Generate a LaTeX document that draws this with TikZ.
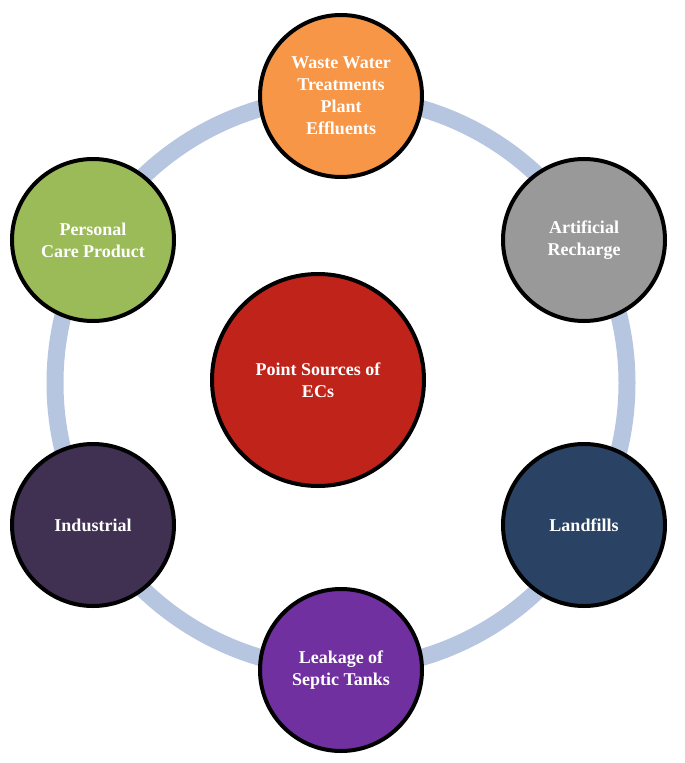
\documentclass[tikz,border=0pt]{standalone}
\usepackage{fontspec}
\setmainfont{Liberation Serif}
\begin{document}
\begin{tikzpicture}[x=1pt,y=-1pt,
  nd/.style={circle,draw=black,line width=4pt,minimum size=162pt,inner sep=0pt,text=white,font=\bfseries\fontsize{18}{22}\selectfont,align=center}]
\useasboundingbox (0,0) rectangle (685,763);
\draw[line width=17pt,color={rgb,255:red,183;green,198;blue,224}] (341,383) circle (286);
\node[nd,fill={rgb,255:red,247;green,150;blue,70}] (a) at (341,96) {Waste Water\\Treatments\\Plant\\Effluents};
\node[nd,fill={rgb,255:red,153;green,153;blue,153}] (b) at (584,240) {Artificial\\Recharge};
\node[nd,fill={rgb,255:red,42;green,67;blue,101}] (c) at (584,525) {Landfills};
\node[nd,fill={rgb,255:red,112;green,48;blue,160}] (d) at (341,670) {Leakage of\\Septic Tanks};
\node[nd,fill={rgb,255:red,64;green,49;blue,82}] (e) at (93,525) {Industrial};
\node[nd,fill={rgb,255:red,155;green,187;blue,89}] (f) at (93,240) {Personal\\Care Product};
\node[nd,fill={rgb,255:red,192;green,35;blue,26},minimum size=212pt] (g) at (318,380) {Point Sources of\\ECs};
\end{tikzpicture}
\end{document}
